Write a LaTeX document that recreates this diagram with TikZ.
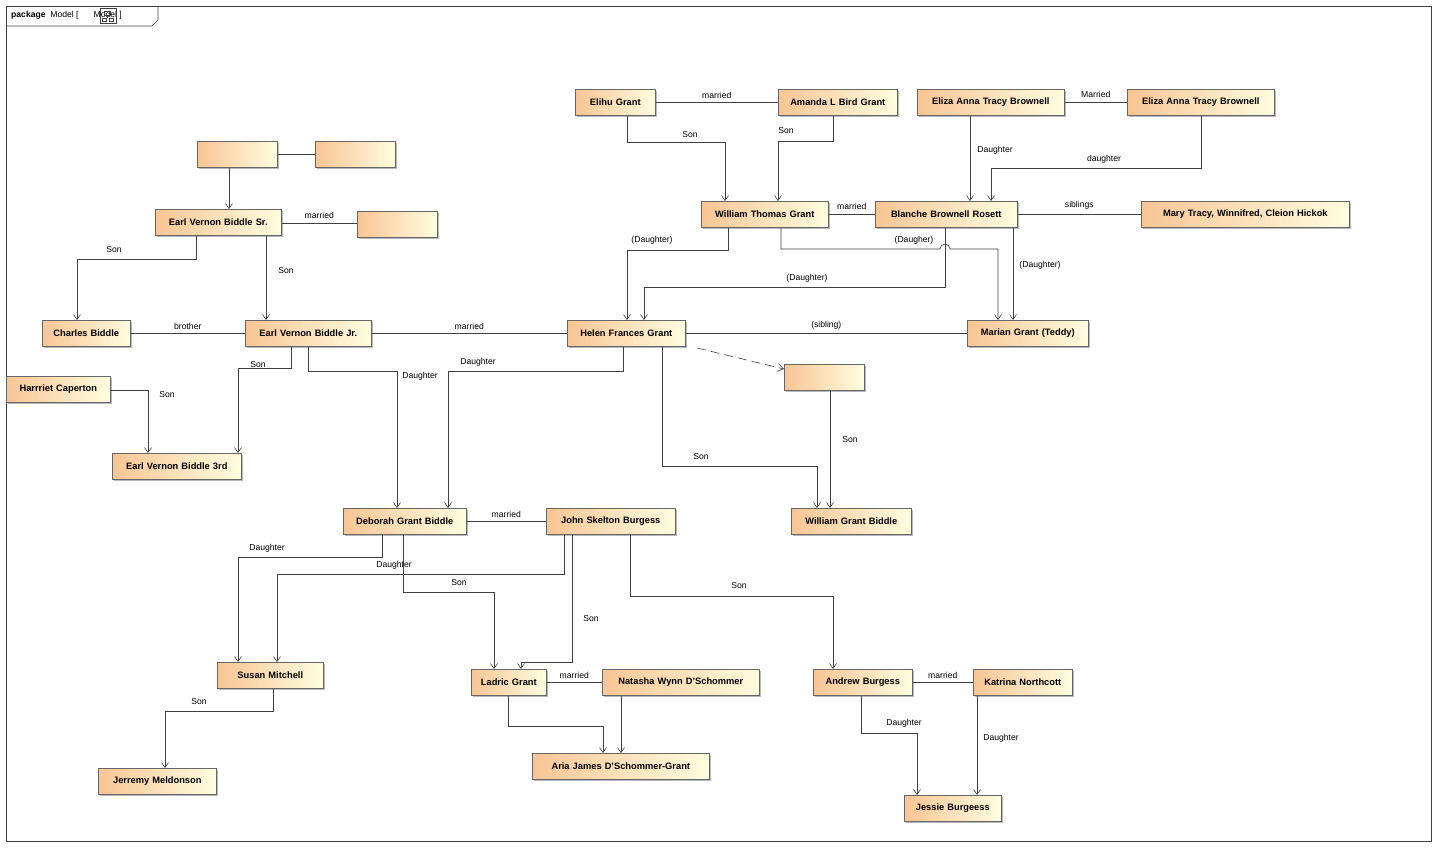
\documentclass[tikz,border=0pt]{standalone}
\usepackage{fontspec}
\setmainfont{Liberation Sans}
\usetikzlibrary{shadows,arrows.meta}
\definecolor{boxl}{HTML}{F8C594}
\definecolor{boxr}{HTML}{FFFDE0}
\definecolor{ln}{HTML}{404040}
\begin{document}
\begin{tikzpicture}[x=1pt,y=-1pt,
  pbox/.style={draw=ln!80,line width=0.6pt,left color=boxl,right color=boxr,minimum height=26pt,inner sep=1pt,
    font=\fontsize{9.3}{10}\selectfont\bfseries,anchor=north west,
    drop shadow={shadow xshift=2pt,shadow yshift=-2pt,fill=gray!55,opacity=1}},
  ln/.style={draw=ln,line width=0.6pt},
  ar/.style={ln,-{Straight Barb[length=5pt,width=7pt]}},
  lab/.style={font=\fontsize{8.6}{10}\selectfont}]
\useasboundingbox (0,0) rectangle (1436,847);
\fill[white] (0,0) rectangle (1436,847);
\draw[ln] (6,6) rectangle (1431,841);
\draw[ln] (6,26) -- (152,26) -- (158,20) -- (158,6);
\node[anchor=west,inner sep=0,font=\fontsize{8.6}{10}\selectfont] (hdr) at (11,15) {\textbf{package}\ \ Model [\hspace{15pt}Model ]};
\draw[ln,line width=0.4pt] (100,8) rectangle (116,23);
\draw[ln,line width=0.4pt] (104,11) rectangle (110,15) (102,18) rectangle (106,21) (109,18) rectangle (113,21) (107,15)--(107,18);
% nodes: (x1,y1) width
\newcommand{\pn}[5]{\node[pbox,minimum width=#4pt,text width=#4pt-4pt,align=center] (#1) at (#2,#3) {#5};}
\pn{elihu}{575}{89}{80}{Elihu Grant}
\pn{amanda}{778}{89}{119}{Amanda L Bird Grant}
\pn{eliza}{917}{89}{147}{Eliza Anna Tracy Brownell}
\pn{elizb}{1127}{89}{147}{Eliza Anna Tracy Brownell}
\pn{bA}{197}{141}{80}{}
\pn{bB}{315}{141}{80}{}
\pn{evbs}{155}{209}{126}{Earl Vernon Biddle Sr.}
\pn{bC}{357}{211}{80}{}
\pn{wtg}{701}{201}{127}{William Thomas Grant}
\pn{bbr}{875}{201}{142}{Blanche Brownell Rosett}
\pn{mary}{1141}{201}{208}{Mary Tracy, Winnifred, Cleion Hickok}
\pn{charles}{42}{320}{88}{Charles Biddle}
\pn{evbj}{245}{320}{126}{Earl Vernon Biddle Jr.}
\pn{hfg}{567}{320}{118}{Helen Frances Grant}
\pn{marian}{967}{320}{121}{Marian Grant (Teddy)}
\pn{bD}{784}{364}{80}{}
\pn{harr}{6}{376}{104}{Harrriet Caperton}
\pn{evb3}{112}{453}{129}{Earl Vernon Biddle 3rd}
\pn{deb}{343}{508}{123}{Deborah Grant Biddle}
\pn{jsb}{546}{508}{129}{John Skelton Burgess}
\pn{wgb}{791}{508}{120}{William Grant Biddle}
\pn{susan}{217}{662}{106}{Susan Mitchell}
\pn{ladric}{471}{669}{75}{Ladric Grant}
\pn{nat}{602}{669}{157}{Natasha Wynn D'Schommer}
\pn{andrew}{813}{669}{99}{Andrew Burgess}
\pn{kat}{973}{669}{99}{Katrina Northcott}
\pn{jerr}{98}{768}{118}{Jerremy Meldonson}
\pn{aria}{532}{753}{177}{Aria James D'Schommer-Grant}
\pn{jess}{904}{795}{97}{Jessie Burgeess}
% plain links
\draw[ln] (elihu) -- node[lab,above=0pt]{married} (amanda);
\draw[ln] (eliza) -- node[lab,above=1pt]{Married} (elizb);
\draw[ln] (wtg) -- node[lab,above=1pt]{married} (bbr);
\draw[ln] (bbr) -- node[lab,above=1pt]{siblings} (mary);
\draw[ln] (bA) -- (bB);
\draw[ln] (evbs.east |- 0,223) -- node[lab,above=1pt]{married} (bC.west |- 0,223);
\draw[ln] (charles) -- node[lab,above=0pt]{brother} (evbj);
\draw[ln] (evbj) -- node[lab,above=0pt]{married} (hfg);
\draw[ln] (hfg) -- node[lab,above=0pt]{(sibling)} (marian);
\draw[ln] (deb) -- node[lab,above=0pt]{married} (jsb);
\draw[ln] (ladric) -- node[lab,above=0pt]{married} (nat);
\draw[ln] (andrew) -- node[lab,above=0pt]{married} (kat);
% arrows
\draw[ar] (elihu.south -| 627,0) -- (627,142) -- (725,142) -- (wtg.north -| 725,0);
\node[lab] (l1) at (690,135) {Son};
\draw[ar] (amanda.south -| 833,0) -- (833,141) -- (778,141) -- (wtg.north -| 778,0);
\node[lab] (l2) at (786,131) {Son};
\draw[ar] (eliza.south -| 970,0) -- (bbr.north -| 970,0);
\node[lab] (l3) at (995,150) {Daughter};
\draw[ar] (elizb.south -| 1201,0) -- (1201,168) -- (991,168) -- (bbr.north -| 991,0);
\node[lab] (l4) at (1104,159) {daughter};
\draw[ar] (bA.south -| 229,0) -- (evbs.north -| 229,0);
\draw[ar] (evbs.south -| 196,0) -- (196,259) -- (77,259) -- (charles.north -| 77,0);
\node[lab] (l5) at (114,250) {Son};
\draw[ar] (evbs.south -| 266,0) -- (evbj.north -| 266,0);
\node[lab] (l6) at (286,271) {Son};
\draw[ar] (wtg.south -| 728,0) -- (728,250) -- (627,250) -- (hfg.north -| 627,0);
\node[lab] (l7) at (652,240) {(Daughter)};
\draw[ar] (bbr.south -| 945,0) -- (945,287) -- (644,287) -- (hfg.north -| 644,0);
\node[lab] (l8) at (807,278) {(Daughter)};
\draw[ar] (wtg.south -| 781,0) -- (781,249) -- (940,249) arc (180:360:5) -- (998,249) -- (marian.north -| 998,0);
\node[lab] (l9) at (914,240) {(Daugher)};
\draw[ar] (bbr.south -| 1013,0) -- (marian.north -| 1013,0);
\node[lab] (l10) at (1040,265) {(Daughter)};
\draw[ln,dashed,dash pattern=on 9pt off 5pt,-{Straight Barb[length=6pt,width=8pt]}] (697,348) -- (bD.west |- 0,369);
\draw[ar] (evbj.south -| 291,0) -- (291,368) -- (238,368) -- (evb3.north -| 238,0);
\node[lab] (l11) at (258,365) {Son};
\draw[ar] (evbj.south -| 308,0) -- (308,371) -- (397,371) -- (deb.north -| 397,0);
\node[lab] (l12) at (420,376) {Daughter};
\draw[ar] (hfg.south -| 623,0) -- (623,371) -- (448,371) -- (deb.north -| 448,0);
\node[lab] (l13) at (478,362) {Daughter};
\draw[ar] (hfg.south -| 662,0) -- (662,466) -- (817,466) -- (wgb.north -| 817,0);
\node[lab] (l14) at (701,457) {Son};
\draw[ar] (bD.south -| 830,0) -- (wgb.north -| 830,0);
\node[lab] (l15) at (850,440) {Son};
\draw[ar] (harr.east |- 0,390) -- (148,390) -- (evb3.north -| 148,0);
\node[lab] (l16) at (167,395) {Son};
\draw[ar] (deb.south -| 382,0) -- (382,557) -- (238,557) -- (susan.north -| 238,0);
\node[lab] (l17) at (267,548) {Daughter};
\draw[ar] (jsb.south -| 564,0) -- (564,574) -- (277,574) -- (susan.north -| 277,0);
\node[lab] (l18) at (394,565) {Daughter};
\draw[ar] (deb.south -| 403,0) -- (403,592) -- (494,592) -- (ladric.north -| 494,0);
\node[lab] (l19) at (459,583) {Son};
\draw[ar] (jsb.south -| 572,0) -- (572,662) -- (521,662) -- (ladric.north -| 521,0);
\node[lab] (l20) at (591,619) {Son};
\draw[ar] (jsb.south -| 630,0) -- (630,596) -- (833,596) -- (andrew.north -| 833,0);
\node[lab] (l21) at (739,586) {Son};
\draw[ar] (ladric.south -| 508,0) -- (508,726) -- (603,726) -- (aria.north -| 603,0);
\draw[ar] (nat.south -| 621,0) -- (aria.north -| 621,0);
\draw[ar] (susan.south -| 273,0) -- (273,711) -- (165,711) -- (jerr.north -| 165,0);
\node[lab] (l22) at (199,702) {Son};
\draw[ar] (andrew.south -| 861,0) -- (861,733) -- (917,733) -- (jess.north -| 917,0);
\node[lab] (l23) at (904,723) {Daughter};
\draw[ar] (kat.south -| 977,0) -- (jess.north -| 977,0);
\node[lab] (l24) at (1001,738) {Daughter};
\end{tikzpicture}
\end{document}
